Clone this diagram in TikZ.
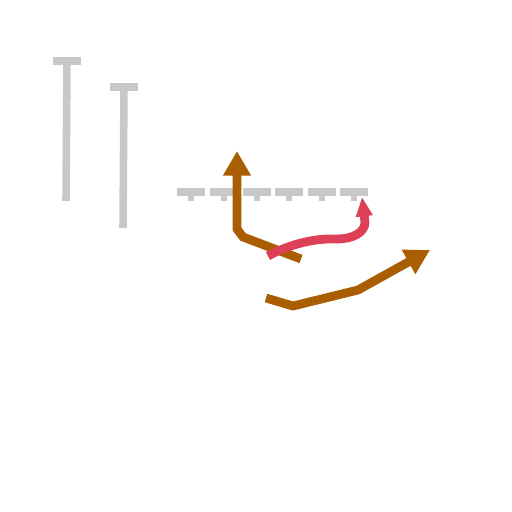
\documentclass[tikz,border=0pt]{standalone}
\usetikzlibrary{arrows.meta}
\definecolor{routebrown}{RGB}{170,94,2}
\definecolor{routered}{RGB}{221,65,87}
\definecolor{playergray}{RGB}{200,200,200}

\begin{document}
\begin{tikzpicture}
[x=0.02cm, y=-0.02cm,
player/.style={draw=playergray, line width=4.3pt},
route/.style={draw=routebrown, line width=5pt, -{Triangle[length=14pt,width=15pt]}},
swoop/.style={draw=routered, line width=5pt, -{Triangle[length=11pt,width=9pt]}}]

\useasboundingbox (0,0) rectangle (512,512);

% receivers
\coordinate (r1top) at (67,61);
\coordinate (r1bot) at (66,201);
\coordinate (r2top) at (124,87);
\coordinate (r2bot) at (123,228);
\draw[player] (r1top) -- (r1bot);
\draw[player] ([shift={(-14,0)}]r1top) -- ([shift={(14,0)}]r1top);
\draw[player] (r2top) -- (r2bot);
\draw[player] ([shift={(-14,0)}]r2top) -- ([shift={(14,0)}]r2top);

% line
\foreach \x in {191,224,257,289,322,354} {
  \draw[player] (\x-14,192) -- (\x+14,192);
  \fill[playergray] (\x-3,192) rectangle (\x+3,201);
}

% routes
\coordinate (a1) at (301,259);
\coordinate (a2) at (243,237);
\coordinate (a3) at (237,229);
\coordinate (a4) at (237,151);
\draw[route] (a1) -- (a2) -- (a3) -- (a4);

\coordinate (b1) at (266,298);
\coordinate (b2) at (293,306);
\coordinate (b3) at (358,290);
\coordinate (b4) at (430,250);
\draw[route] (b1) -- (b2) -- (b3) -- (b4);

\coordinate (c1) at (268,256);
\coordinate (c2) at (337,239);
\coordinate (c3) at (365,222);
\coordinate (c4) at (362,197);
\draw[swoop] (c1) .. controls (290,244) and (315,238) .. (c2)
  .. controls (352,239) and (365,233) .. (c3) -- (c4);
\end{tikzpicture}
\end{document}
